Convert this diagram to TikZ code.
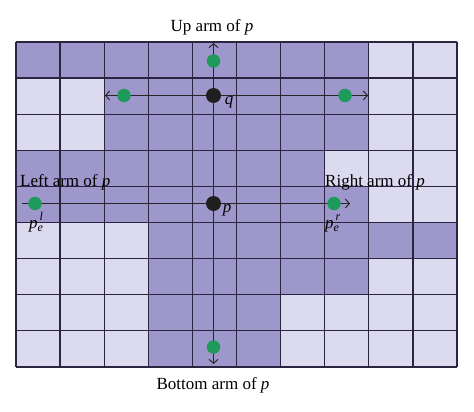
\documentclass[tikz,border=0pt]{standalone}
\usepackage{fontspec}
\setmainfont{Liberation Serif}
\usetikzlibrary{arrows.meta}
\definecolor{darkcell}{HTML}{9E97CB}
\definecolor{lightcell}{HTML}{DCDAEE}
\definecolor{gridline}{HTML}{2A2540}
\definecolor{dotgreen}{HTML}{1E9A5A}
\pgfdeclarelayer{bg}
\pgfsetlayers{bg,main}
\newcommand{\subsup}[2]{\textit{p}\rlap{\raisebox{7.5pt}{\fontsize{12}{12}\selectfont\,\textit{#2}}}\raisebox{-3pt}{\fontsize{12}{12}\selectfont\textit{#1}}}
\tikzset{
  cellfill/.style={fill=darkcell},
  gline/.style={draw=gridline, line width=1.3pt},
  armline/.style={draw=black!85, line width=1pt},
  armtip/.style={armline, -{Straight Barb[length=4pt,width=9pt]}},
  blackdot/.style={circle, fill=black!88, inner sep=0pt, minimum size=15pt},
  greendot/.style={circle, fill=dotgreen, inner sep=0pt, minimum size=13.5pt},
  lbl/.style={font=\fontsize{17}{19}\selectfont, inner sep=0pt},
}
\begin{document}
\begin{tikzpicture}[x=1pt,y=-1pt]
\useasboundingbox (0,0) rectangle (474,412);
\def\xa{16}\def\cw{44.1}\def\ya{42}\def\ch{36.1}
\begin{pgfonlayer}{bg}
  \fill[white] (0,0) rectangle (474,412);
  \fill[lightcell] (\xa,\ya) rectangle (\xa+10*\cw,\ya+9*\ch);
  % dark cells: row / first col / last col
  \foreach \r/\a/\b in {0/0/7,1/2/7,2/2/7,3/0/6,4/0/7,5/3/9,6/3/7,7/3/5,8/3/5}{
    \fill[cellfill] (\xa+\a*\cw,\ya+\r*\ch) rectangle (\xa+\b*\cw+\cw,\ya+\r*\ch+\ch);
  }
  \foreach \i in {0,...,10}{ \draw[gline] (\xa+\i*\cw,\ya) -- (\xa+\i*\cw,\ya+9*\ch); }
  \foreach \j in {0,...,9}{ \draw[gline] (\xa,\ya+\j*\ch) -- (\xa+10*\cw,\ya+\j*\ch); }
\end{pgfonlayer}

% arm ends
\coordinate (upend) at (213.5,43);
\coordinate (downend) at (213.5,364);
\coordinate (qleft) at (105,95.5);
\coordinate (qright) at (368,95.5);
\coordinate (pleft) at (22,203.5);
\coordinate (pright) at (350,203.5);

% dots
\node[blackdot] (q) at (213.5,95.5) {};
\node[blackdot] (p) at (213.5,203.5) {};
\node[greendot] (gu) at (213.5,61) {};
\node[greendot] (gd) at (213.5,347) {};
\node[greendot] (gql) at (124,95.5) {};
\node[greendot] (gqr) at (345,95.5) {};
\node[greendot] (gpl) at (35,203.5) {};
\node[greendot] (gpr) at (334,203.5) {};

\begin{pgfonlayer}{bg}
  \draw[armtip] (p.center) -- (upend);
  \draw[armtip] (p.center) -- (downend);
  \draw[armtip] (q.center) -- (qleft);
  \draw[armtip] (q.center) -- (qright);
  \draw[armline] (p.center) -- (pleft);
  \draw[armtip] (p.center) -- (pright);
\end{pgfonlayer}

% labels
\node[lbl, anchor=base] (tup) at (212,32) {Up arm of \textit{p}};
\node[lbl, anchor=base] (tdown) at (213,389) {Bottom arm of \textit{p}};
\node[lbl, anchor=base west] (tleft) at (20,186) {Left arm of \textit{p}};
\node[lbl, anchor=base west] (tright) at (325,186) {Right arm of \textit{p}};
\node[lbl] (tq) at (229,102) {\textit{q}};
\node[lbl] (tp) at (227,210) {\textit{p}};
\node[lbl, anchor=base west] (tpl) at (29,228) {\subsup{e}{l}};
\node[lbl, anchor=base west] (tpr) at (325,228) {\subsup{e}{r}};
\end{tikzpicture}
\end{document}
